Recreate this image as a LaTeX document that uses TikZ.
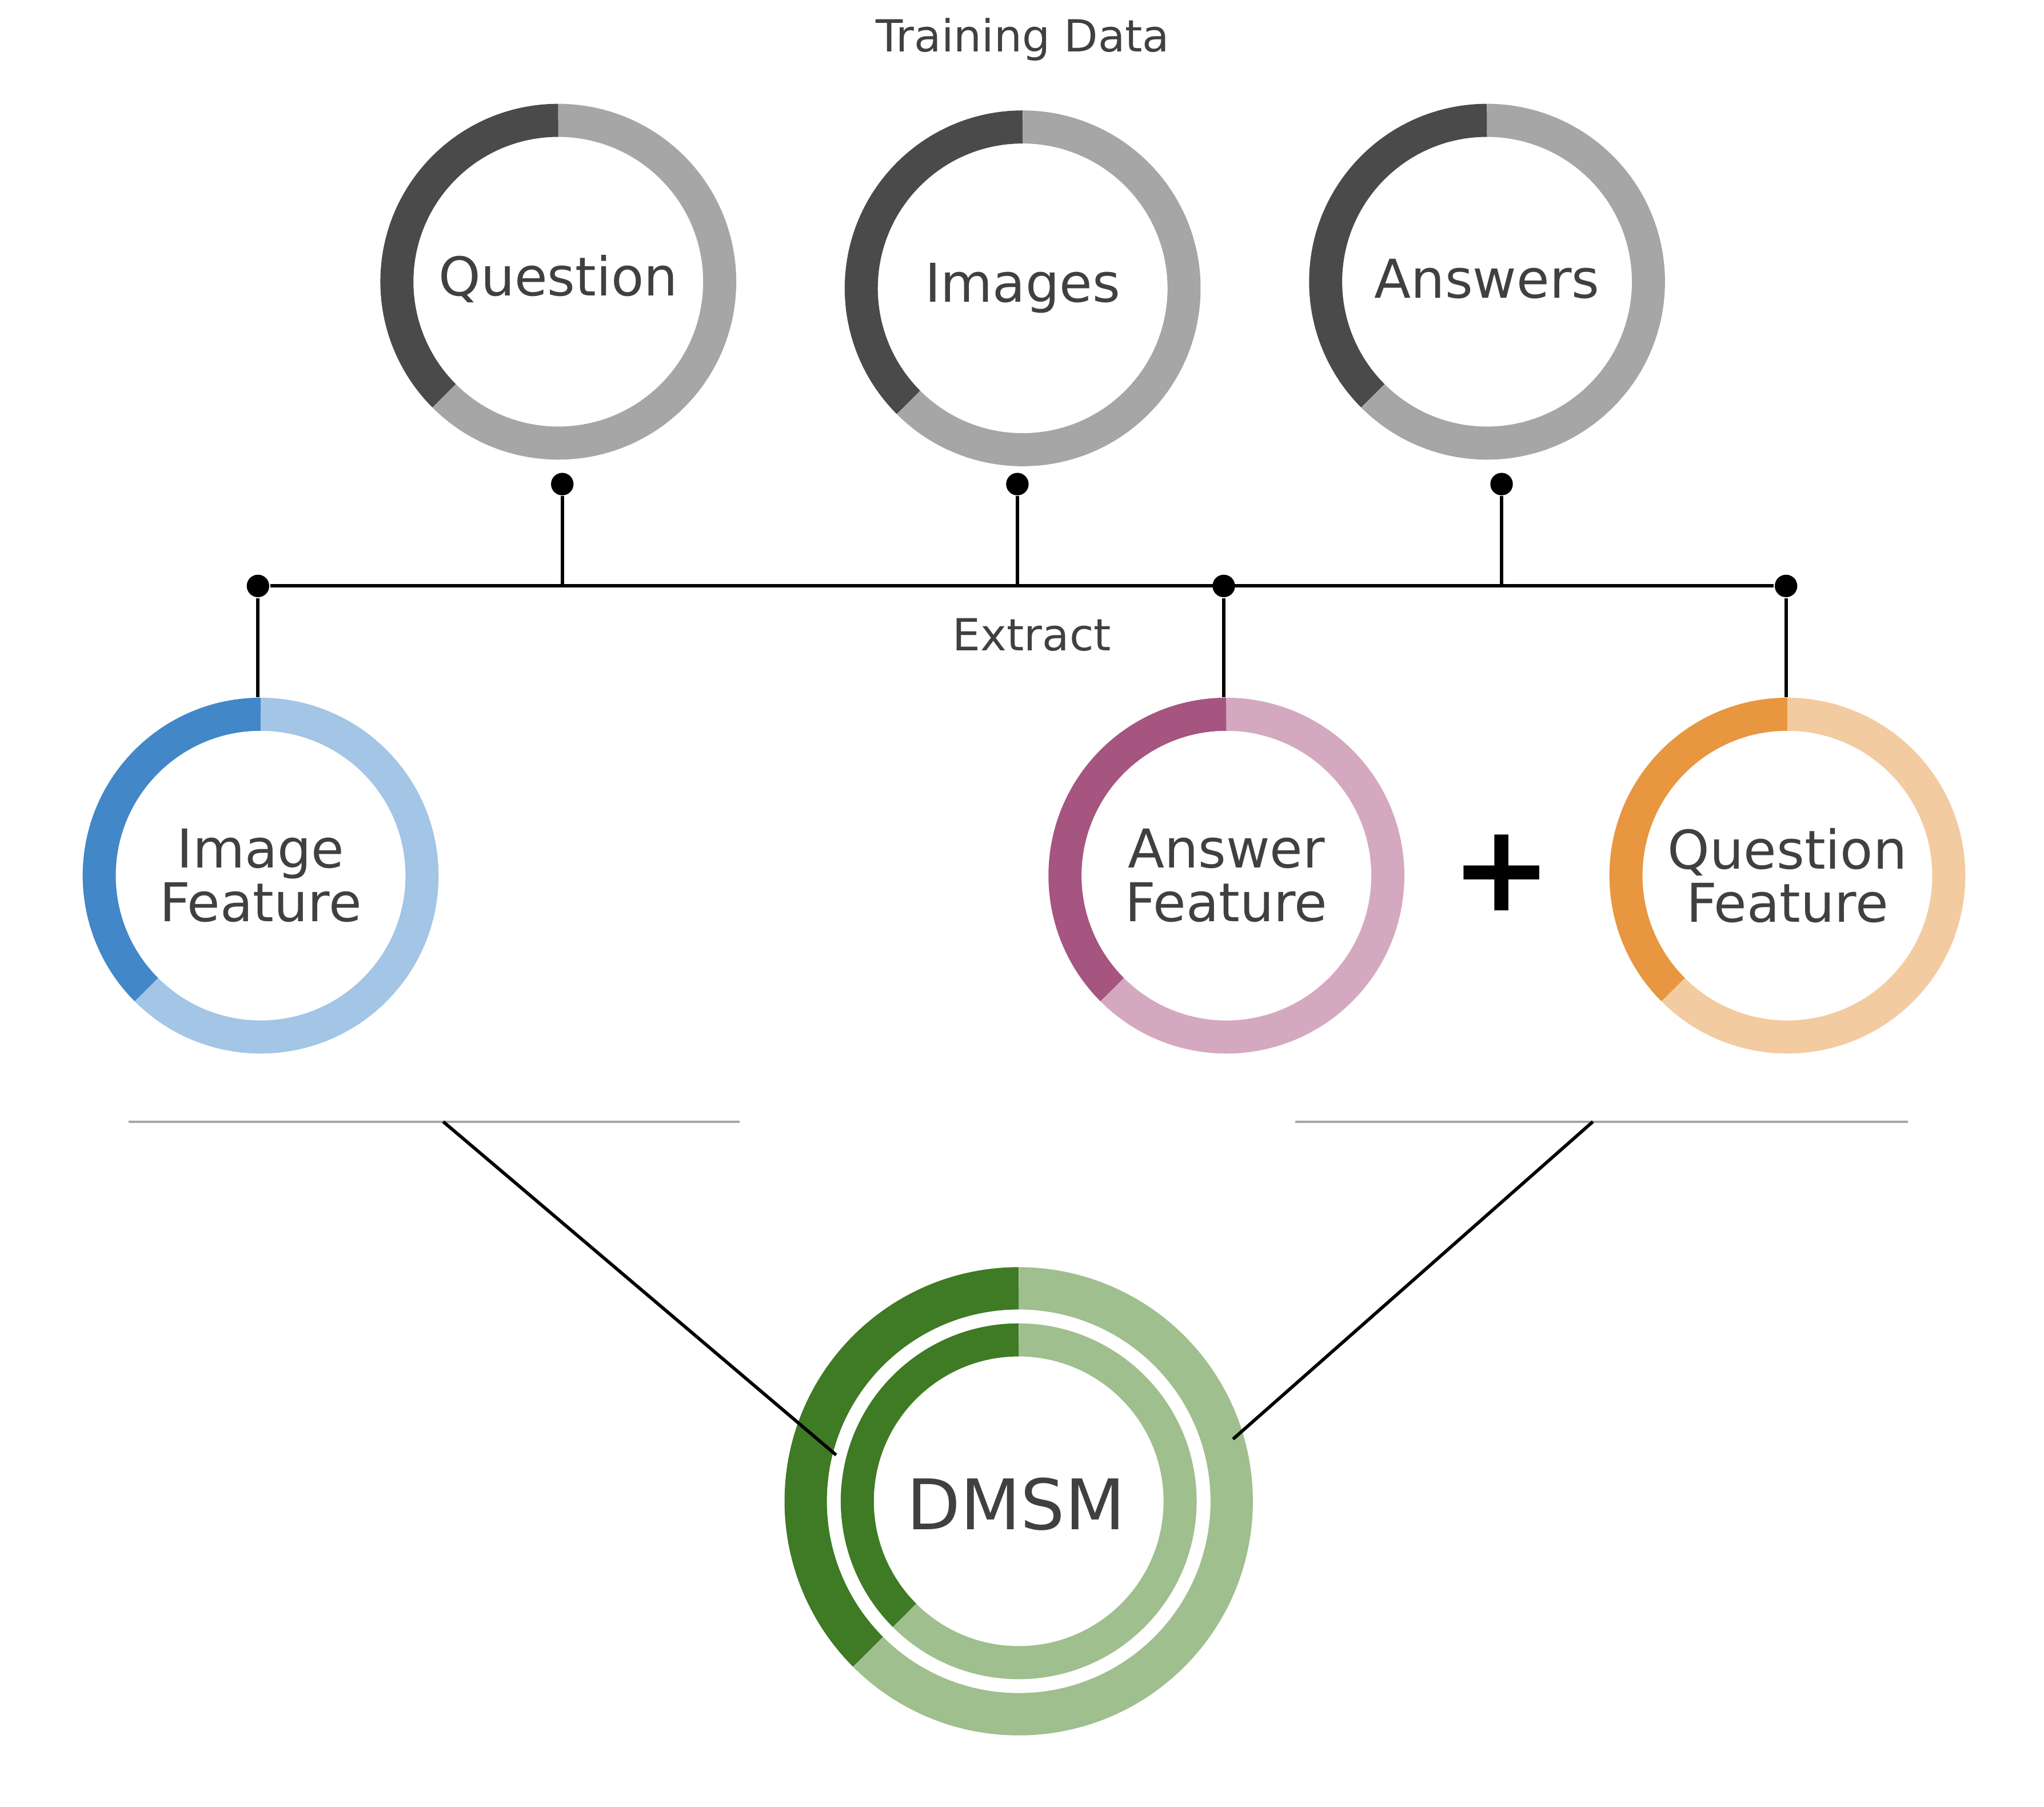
\documentclass[tikz,border=0pt]{standalone}
\usepackage{fontspec}
\setmainfont{DejaVu Sans}
\begin{document}
\begin{tikzpicture}[x=0.01cm,y=0.01cm,
 lbl/.style={circle,minimum size=2.2cm,align=center,font=\fontsize{11.5}{11.5}\selectfont,text=black!75},
 dot/.style={circle,fill=black,inner sep=0pt,minimum size=0.17cm},
 conn/.style={line width=0.7pt,black}]
\definecolor{dg}{HTML}{4A4A4A}\definecolor{lg}{HTML}{A6A6A6}
\definecolor{bd}{HTML}{4287C7}\definecolor{bl}{HTML}{A3C5E6}
\definecolor{pd}{HTML}{A5557F}\definecolor{pl}{HTML}{D4A9BF}
\definecolor{od}{HTML}{E8963F}\definecolor{ol}{HTML}{F3CBA0}
\definecolor{gd}{HTML}{3F7A25}\definecolor{gl}{HTML}{9FBF8E}
\useasboundingbox (0,0) rectangle (1545,1366);
\newcommand{\myring}[6]{%
 \draw[line width=#4*0.01cm,#5] (#1,#2)++(90:#3) arc[start angle=90,end angle=225,radius=#3*0.01cm];
 \draw[line width=#4*0.01cm,#6] (#1,#2)++(225:#3) arc[start angle=225,end angle=450,radius=#3*0.01cm];}
\myring{422}{1153}{122}{25}{dg}{lg}
\myring{773}{1148}{122}{25}{dg}{lg}
\myring{1124}{1153}{122}{25}{dg}{lg}
\myring{197}{704}{122}{25}{bd}{bl}
\myring{927}{704}{122}{25}{pd}{pl}
\myring{1351}{704}{122}{25}{od}{ol}
\myring{770}{231}{161}{32}{gd}{gl}
\myring{770}{231}{122}{25}{gd}{gl}
\node[lbl] (q) at (422,1155) {Question};
\node[lbl] (im) at (773,1148) {Images};
\node[lbl] (a) at (1124,1155) {Answers};
\node[lbl] (imf) at (197,704) {Image\\Feature};
\node[lbl] (af) at (927,704) {Answer\\Feature};
\node[lbl] (qf) at (1351,704) {Question\\Feature};
\node[lbl,font=\fontsize{15}{16}\selectfont] (dm) at (768,229) {DMSM};
\node[font=\fontsize{9.5}{9.5}\selectfont,text=black!75] (td) at (773,1336) {Training Data};
\node[font=\fontsize{9.5}{9.5}\selectfont,text=black!75] (ex) at (780,886) {Extract};
\node[font=\bfseries\fontsize{26}{26}\selectfont] (plus) at (1135,706) {+};
\node[dot] (d1) at (425,1000) {};
\node[dot] (d2) at (769,1000) {};
\node[dot] (d3) at (1135,1000) {};
\node[dot] (e1) at (195,923) {};
\node[dot] (e2) at (925,923) {};
\node[dot] (e3) at (1350,923) {};
\coordinate (t1) at (195,839);\coordinate (t2) at (925,839);\coordinate (t3) at (1350,839);
\draw[conn] (e1) -- (e3);
\draw[conn] (d1) -- (d1 |- e1);\draw[conn] (d2) -- (d2 |- e1);\draw[conn] (d3) -- (d3 |- e1);
\draw[conn] (e1) -- (t1);\draw[conn] (e2) -- (t2);\draw[conn] (e3) -- (t3);
\draw[black!35,line width=0.5pt] (97,518) -- (559,518);
\draw[black!35,line width=0.5pt] (979,518) -- (1442,518);
\coordinate (s1) at (335,518);\coordinate (s2) at (1204,518);
\coordinate (f1) at (632,266);\coordinate (f2) at (932,278);
\draw[conn] (s1) -- (f1);
\draw[conn] (s2) -- (f2);
\end{tikzpicture}
\end{document}
